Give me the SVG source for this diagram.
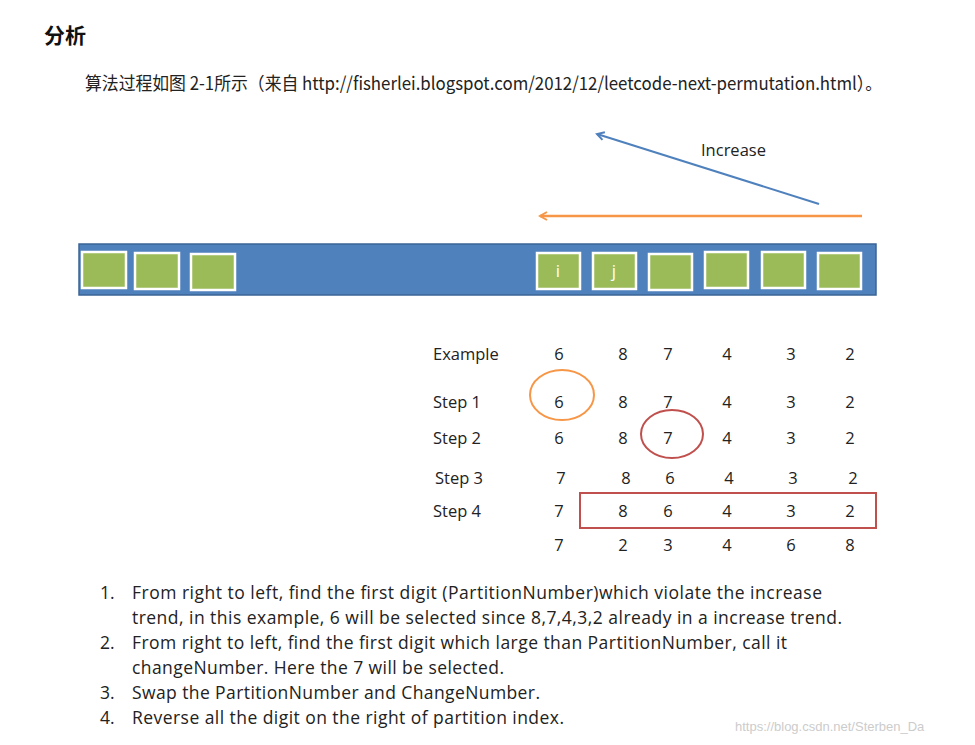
<svg xmlns="http://www.w3.org/2000/svg" width="975" height="745" viewBox="0 0 975 745">
<style>
.t{font-family:"Open Sans","Liberation Sans","Noto Sans CJK SC",sans-serif;fill:#222;font-size:16.5px}
.l{font-size:17.5px}
.c{text-anchor:middle}
.sq{fill:#9bbb59;stroke:#fff;stroke-width:2.5}
.w{fill:#fff;font-family:"Open Sans",sans-serif;font-size:17px;text-anchor:middle}
</style>
<defs>
<marker id="ab" markerWidth="10" markerHeight="10" refX="8" refY="5" orient="auto" markerUnits="userSpaceOnUse"><path d="M1,1 L8,5 L1,9" fill="none" stroke="#4f81bd" stroke-width="2"/></marker>
<marker id="ao" markerWidth="10" markerHeight="10" refX="8" refY="5" orient="auto" markerUnits="userSpaceOnUse"><path d="M1,1 L8,5 L1,9" fill="none" stroke="#f79646" stroke-width="2"/></marker>
</defs>
<rect width="975" height="745" fill="#fff"/>
<text x="44" y="43" font-family="Noto Sans CJK SC,sans-serif" font-size="21" font-weight="bold" fill="#111">分析</text>
<text x="85" y="90" font-family="Liberation Sans Narrow,Noto Sans CJK SC,sans-serif" font-size="18" fill="#222" textLength="797" lengthAdjust="spacingAndGlyphs">算法过程如图 2-1所示（来自 http://fisherlei.blogspot.com/2012/12/leetcode-next-permutation.html）。</text>
<g id="connectors">
<line x1="819" y1="204" x2="597" y2="134" stroke="#4f81bd" stroke-width="2" marker-end="url(#ab)"/>
<line x1="862" y1="216" x2="540" y2="216" stroke="#f79646" stroke-width="2.5" marker-end="url(#ao)"/>
</g>
<text class="t" x="701" y="156">Increase</text>
<g id="bar">
<rect x="79" y="244" width="797" height="51" fill="#4f81bd" stroke="#3a6496" stroke-width="1.5"/>
<rect class="sq" x="82" y="252" width="44" height="36"/>
<rect class="sq" x="135" y="253" width="44" height="36"/>
<rect class="sq" x="191" y="254" width="44" height="36"/>
<rect class="sq" x="537" y="253" width="43" height="36"/>
<rect class="sq" x="593" y="253" width="43" height="36"/>
<rect class="sq" x="649" y="254" width="43" height="36"/>
<rect class="sq" x="705" y="252" width="43" height="36"/>
<rect class="sq" x="762" y="252" width="43" height="36"/>
<rect class="sq" x="818" y="253" width="43" height="36"/>
<text class="w" x="558" y="277">i</text>
<text class="w" x="614" y="277">j</text>
</g>
<g id="table" class="t">
<text x="433" y="360">Example</text>
<text x="433" y="408">Step 1</text>
<text x="433" y="444">Step 2</text>
<text x="435" y="484">Step 3</text>
<text x="433" y="517">Step 4</text>
<g class="c">
<text x="559" y="360">6</text><text x="623" y="360">8</text><text x="668" y="360">7</text><text x="727" y="360">4</text><text x="791" y="360">3</text><text x="850" y="360">2</text>
<text x="559" y="408">6</text><text x="623" y="408">8</text><text x="668" y="408">7</text><text x="727" y="408">4</text><text x="791" y="408">3</text><text x="850" y="408">2</text>
<text x="559" y="444">6</text><text x="623" y="444">8</text><text x="668" y="444">7</text><text x="727" y="444">4</text><text x="791" y="444">3</text><text x="850" y="444">2</text>
<text x="561" y="484">7</text><text x="626" y="484">8</text><text x="670" y="484">6</text><text x="729" y="484">4</text><text x="793" y="484">3</text><text x="853" y="484">2</text>
<text x="559" y="517">7</text><text x="623" y="517">8</text><text x="668" y="517">6</text><text x="727" y="517">4</text><text x="791" y="517">3</text><text x="850" y="517">2</text>
<text x="559" y="551">7</text><text x="623" y="551">2</text><text x="668" y="551">3</text><text x="727" y="551">4</text><text x="791" y="551">6</text><text x="850" y="551">8</text>
</g>
</g>
<ellipse cx="562" cy="395" rx="32" ry="25" fill="none" stroke="#f79646" stroke-width="2"/>
<ellipse cx="672" cy="434" rx="31" ry="24" fill="none" stroke="#c0504d" stroke-width="2"/>
<rect x="580" y="493" width="296" height="35" fill="none" stroke="#c0504d" stroke-width="2"/>
<g class="t l">
<text x="100" y="599">1.</text><text x="132" y="599" textLength="690">From right to left, find the first digit (PartitionNumber)which violate the increase</text>
<text x="132" y="624" textLength="710">trend, in this example, 6 will be selected since 8,7,4,3,2 already in a increase trend.</text>
<text x="100" y="649">2.</text><text x="132" y="649" textLength="655">From right to left, find the first digit which large than PartitionNumber, call it</text>
<text x="132" y="674" textLength="372">changeNumber. Here the 7 will be selected.</text>
<text x="100" y="699">3.</text><text x="132" y="699" textLength="408">Swap the PartitionNumber and ChangeNumber.</text>
<text x="100" y="724">4.</text><text x="132" y="724" textLength="432">Reverse all the digit on the right of partition index.</text>
</g>
<text x="735" y="731" font-family="Liberation Sans,sans-serif" font-size="13" fill="#ccc">https://blog.csdn.net/Sterben_Da</text>
</svg>
